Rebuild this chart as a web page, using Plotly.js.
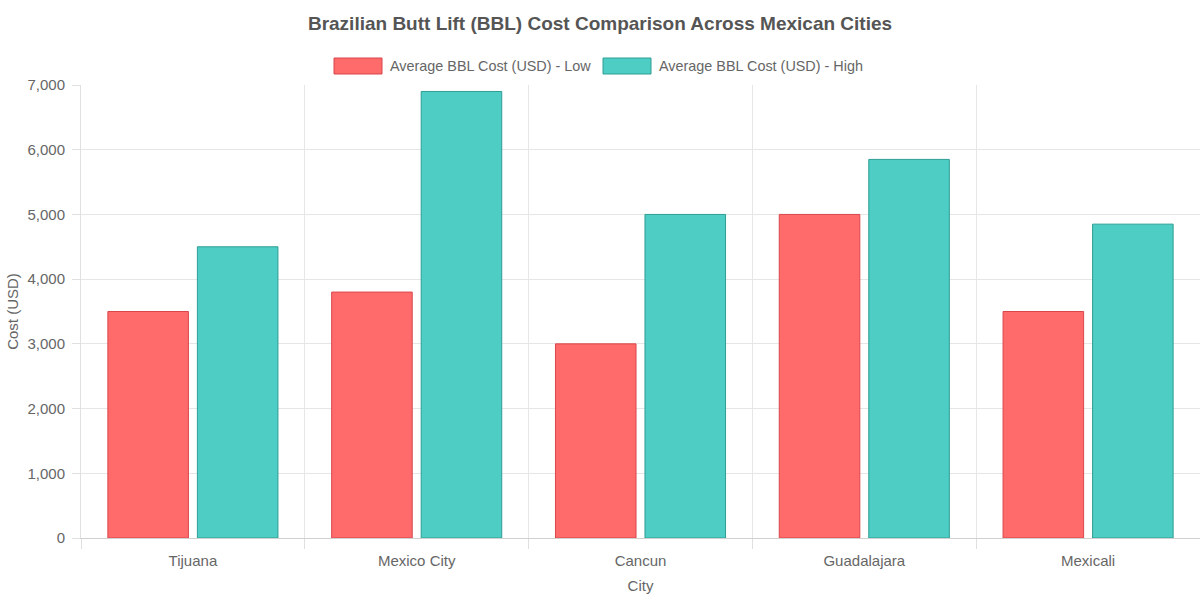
<!DOCTYPE html>
<html>
<head>
<meta charset="utf-8">
<script src="https://cdn.plot.ly/plotly-3.0.1.min.js"></script>
<style>
  html, body { margin: 0; padding: 0; background: #ffffff; }
  #chart { width: 1200px; height: 600px; }
</style>
</head>
<body>
<div id="chart"></div>
<script>
// BBL price ranges by city (USD)
const cities = ["Tijuana", "Mexico City", "Cancun", "Guadalajara", "Mexicali"];
const costLow = [3500, 3800, 3000, 5000, 3500];
const costHigh = [4500, 6900, 5000, 5850, 4850];
const seriesNames = ["Average BBL Cost (USD) - Low", "Average BBL Cost (USD) - High"];

const fillColors = ["#FF6B6B", "#4ECDC4"];
const lineColors = ["#D9474B", "#2E9E95"];

const FONT = "Liberation Sans, Arial, Helvetica, sans-serif";
const W = 1200, H = 600;
const M = { l: 81, r: 0, t: 85, b: 62 };
const plotW = W - M.l - M.r, plotH = H - M.t - M.b;
const px = p => (p - M.l) / plotW;          // pixel x -> paper x
const py = q => (H - M.b - q) / plotH;      // pixel y -> paper y

const traces = [costLow, costHigh].map((vals, i) => ({
  type: "bar",
  name: seriesNames[i],
  x: cities,
  y: vals,
  marker: { color: fillColors[i], line: { color: lineColors[i], width: 1 } },
  hovertemplate: "%{x}<br>" + seriesNames[i] + ": $%{y:,}<extra></extra>",
  showlegend: false
}));

// Custom legend: wide swatches with labels, centred above the plot
const legendItems = [
  { box: [334, 382], textX: 388 },
  { box: [603, 651], textX: 657 }
];
const shapes = [];
const annotations = [];
legendItems.forEach((it, i) => {
  shapes.push({
    type: "rect", xref: "paper", yref: "paper",
    x0: px(it.box[0]), x1: px(it.box[1]), y0: py(74), y1: py(58),
    fillcolor: fillColors[i], line: { color: lineColors[i], width: 1 }
  });
  annotations.push({
    xref: "paper", yref: "paper", x: px(it.textX), y: py(66),
    xanchor: "left", yanchor: "middle", showarrow: false,
    text: seriesNames[i], font: { family: FONT, size: 14.4, color: "#666666" }
  });
});

const layout = {
  width: W, height: H,
  margin: M,
  paper_bgcolor: "#ffffff",
  plot_bgcolor: "#ffffff",
  font: { family: FONT, size: 14, color: "#666666" },
  title: {
    text: "<b>Brazilian Butt Lift (BBL) Cost Comparison Across Mexican Cities</b>",
    font: { family: FONT, size: 19, color: "#555555" },
    x: 0.5, xref: "container", xanchor: "center",
    y: 1 - 23 / H, yref: "container", yanchor: "middle"
  },
  barmode: "group",
  bargap: 0.2,
  bargroupgap: 0.1,
  xaxis: {
    type: "category",
    tickson: "boundaries",
    ticks: "outside", ticklen: 10, tickcolor: "#e0e0e0", tickwidth: 1,
    showgrid: true, gridcolor: "#e6e6e6", gridwidth: 1,
    showline: true, linecolor: "#d0d0d0", linewidth: 1,
    tickfont: { family: FONT, size: 15, color: "#666666" },
    ticklabelstandoff: 9,
    title: { text: "City", font: { family: FONT, size: 15, color: "#666666" }, standoff: 12 },
    fixedrange: true
  },
  yaxis: {
    range: [0, 7000],
    dtick: 1000,
    tickformat: ",",
    ticks: "outside", ticklen: 8, tickcolor: "#e0e0e0", tickwidth: 1,
    showgrid: true, gridcolor: "#e6e6e6", gridwidth: 1,
    zeroline: false,
    showline: true, linecolor: "#e0e0e0", linewidth: 1,
    tickfont: { family: FONT, size: 15, color: "#666666" },
    ticklabelstandoff: 4,
    title: { text: "Cost (USD)", font: { family: FONT, size: 15, color: "#666666" }, standoff: 5 },
    fixedrange: true
  },
  shapes: shapes,
  annotations: annotations,
  showlegend: false
};

Plotly.newPlot("chart", traces, layout, { displayModeBar: false, responsive: false });
</script>
</body>
</html>
